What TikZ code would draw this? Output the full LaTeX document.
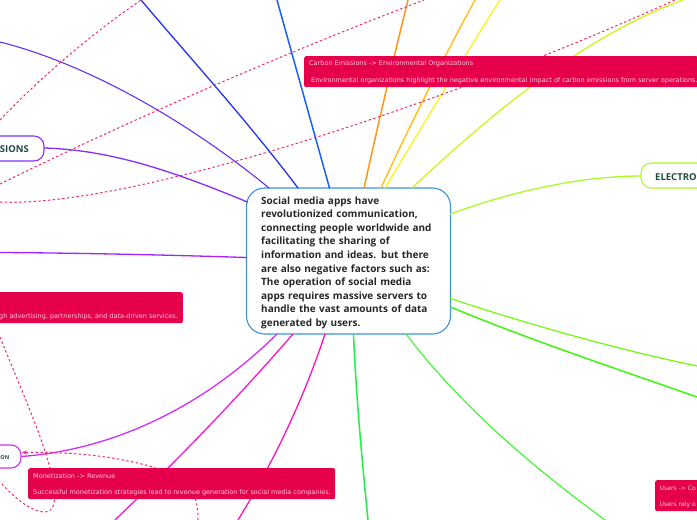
\documentclass[tikz,border=0pt]{standalone}
\usepackage{fontspec}
\setmainfont{Open Sans}[BoldFont={Open Sans Bold}]
\newfontfamily\smallfont{DejaVu Sans}
\usetikzlibrary{arrows.meta}
\definecolor{crimson}{HTML}{E6004C}
\definecolor{dashpink}{HTML}{EE2A6C}
\definecolor{topicblue}{HTML}{3A96DB}
\definecolor{headink}{HTML}{1F4A44}
\tikzset{
  x=1pt,y=-1pt,
  conn/.style={line width=#1,line cap=round},
  conn/.default=1.3pt,
  rel/.style={draw=dashpink,line width=1pt,dash pattern=on 2.4pt off 2.4pt},
  central/.style={draw=topicblue,line width=1.1pt,rounded corners=18pt,fill=white,minimum width=204pt,minimum height=146pt,inner sep=0pt},
  bodytext/.style={font=\fontsize{10pt}{13.55pt}\selectfont\bfseries,text=black!85,align=left,text width=187pt,inner sep=0pt},
  notebox/.style={fill=crimson,rounded corners=2pt,inner sep=0pt},
  notetext/.style={font=\smallfont\fontsize{6.5pt}{8pt}\selectfont,text=white!80!crimson,inner sep=0pt},
  cuttext/.style={font=\smallfont\fontsize{6.1pt}{8pt}\selectfont,text=white!80!crimson,inner sep=0pt},
  branch/.style={rounded corners=10pt,line width=1.1pt,fill=white},
  branchtext/.style={font=\fontsize{9.5pt}{12pt}\selectfont\bfseries,text=headink,inner sep=0pt}
}
\begin{document}
\begin{tikzpicture}
\useasboundingbox (0,0) rectangle (697,520);
\fill[white] (0,0) rectangle (697,520);
% named anchors
\node[central] (hub) at (348.5,261) {};
\foreach \n/\x/\y in {a/141/0,b/277/0,c/0/42,e/0/252.5,g/115/520,h/238/520,i/368/520,j/605/520,k/697/397,l/697/366,m/683/0,n/500/0,o/475/0,p/408/0,
 ha/298/188,hb/329.5/188,hc/269/188,hd/247.5/202,he/246.5/257.5,hf/277/334,hg/293/334,hh/325/334,hi/353.5/334,hj/406/334,hk/450.5/307,hl/450.5/298.5,hm/412/188,hn/385/188,ho/381/188,hp/364/188,hq/450.5/214,
 da/0/120,db/141/0,dc/0/184,dd/424/0,de/0/202,df/675/0,dg/0/337,dh/0/482,di/198/520,dj/22/452.5}
  \coordinate (\n) at (\x,\y);
% connectors
\draw[conn,draw={rgb,255:red,35;green,50;blue,245}] (a) .. controls (190,58) and (245,118) .. (ha);
\draw[conn=1.5pt,draw={rgb,255:red,25;green,95;blue,250}] (b) -- (hb);
\draw[conn=1.1pt,draw={rgb,255:red,100;green,50;blue,245}] (c) .. controls (80,62) and (180,115) .. (hc);
\draw[conn,draw={rgb,255:red,135;green,45;blue,250}] (44,148) .. controls (110,150) and (170,170) .. (hd);
\draw[conn,draw={rgb,255:red,165;green,35;blue,250}] (e) .. controls (80,253) and (170,255) .. (he);
\draw[conn,draw={rgb,255:red,215;green,45;blue,250}] (21,456.5) .. controls (110,450) and (200,410) .. (hf);
\draw[conn,draw={rgb,255:red,250;green,20;blue,215}] (hg) .. controls (240,395) and (180,458) .. (g);
\draw[conn,draw={rgb,255:red,250;green,20;blue,190}] (hh) .. controls (305,395) and (275,460) .. (h);
\draw[conn=1.5pt,draw={rgb,255:red,30;green,240;blue,70}] (hi) .. controls (356,395) and (362,460) .. (i);
\draw[conn=1.1pt,draw={rgb,255:red,60;green,245;blue,40}] (hj) .. controls (460,405) and (530,465) .. (j);
\draw[conn=1.5pt,draw={rgb,255:red,65;green,245;blue,15}] (hk) .. controls (530,340) and (620,370) .. (k);
\draw[conn=1.2pt,draw={rgb,255:red,115;green,250;blue,10}] (hl) .. controls (530,325) and (620,350) .. (l);
\draw[conn,draw={rgb,255:red,170;green,250;blue,40}] (hq) .. controls (510,192) and (580,176) .. (641,176);
\draw[conn,draw={rgb,255:red,205;green,245;blue,30}] (hm) .. controls (490,115) and (585,35) .. (m);
\draw[conn,draw={rgb,255:red,250;green,245;blue,25}] (hn) .. controls (420,130) and (465,55) .. (n);
\draw[conn=1.4pt,draw={rgb,255:red,255;green,190;blue,25}] (ho) .. controls (410,125) and (445,55) .. (o);
\draw[conn=1.5pt,draw={rgb,255:red,255;green,150;blue,25}] (hp) .. controls (378,125) and (393,60) .. (p);
% dashed relations
\draw[rel] (da) .. controls (40,78) and (90,35) .. (db);
\draw[rel] (dc) .. controls (130,120) and (280,55) .. (dd);
\draw[rel] (de) .. controls (120,208) and (420,115) .. (df);
\draw[rel] (dg) .. controls (15,375) and (40,430) .. (50,468) .. controls (56,490) and (58,512) .. (45,512) .. controls (30,512) and (12,495) .. (dh);
\draw[rel,-{Stealth[length=5pt,width=4pt]}] (di) .. controls (198,490) and (190,485) .. (153,467) .. controls (110,455) and (70,452) .. (dj);
% note boxes
\node[notebox,anchor=north west,minimum width=394pt,minimum height=31pt] (n1) at (304,56) {};
\node[notetext,anchor=base west] (t1a) at (309,65.5) {Carbon Emissions -> Environmental Organizations};
\node[notetext,anchor=base west] (t1b) at (311,82) {Environmental organizations highlight the negative environmental impact of carbon emissions from server operations.};
\node[notebox,anchor=north east,minimum width=190pt,minimum height=31pt] (n2) at (183,292) {};
\node[notetext,anchor=base east] (t2) at (178,318) {gh advertising, partnerships, and data-driven services.};
\node[notebox,anchor=north west,minimum width=307pt,minimum height=31pt] (n3) at (28,468) {};
\node[notetext,anchor=base west] (t3a) at (33,478) {Monetization -> Revenue};
\node[notetext,anchor=base west] (t3b) at (33,494) {Successful monetization strategies lead to revenue generation for social media companies.};
\node[notebox,anchor=north west,minimum width=50pt,minimum height=31pt] (n4) at (655,480) {};
\node[cuttext,anchor=base west] (t4a) at (659.5,490) {Users -> Co};
\node[cuttext,anchor=base west] (t4b) at (659.5,506) {Users rely o};
% branch nodes
\draw[branch,draw={rgb,255:red,135;green,45;blue,250}] (-20,136) rectangle (44,161);
\node[branchtext,anchor=base east] (s1) at (29,152) {SIONS};
\draw[branch,draw={rgb,255:red,170;green,250;blue,40}] (641,163) rectangle (720,188);
\node[branchtext,anchor=base west] (s2) at (655,180) {ELECTRO};
\draw[branch,draw={rgb,255:red,215;green,45;blue,250}] (-20,445) rectangle (21,468);
\node[branchtext,anchor=base west,font=\fontsize{5.5pt}{7pt}\selectfont\bfseries] (s3) at (0.3,459.5) {ON};
% hub
\node[bodytext,anchor=north west] (txt) at (261,196.5) {Social media apps have\\revolutionized communication,\\connecting people worldwide and\\facilitating the sharing of\\information and ideas. but there\\are also negative factors such as:\\The operation of social media\\apps requires massive servers to\\handle the vast amounts of data\\generated by users.};
\end{tikzpicture}
\end{document}
